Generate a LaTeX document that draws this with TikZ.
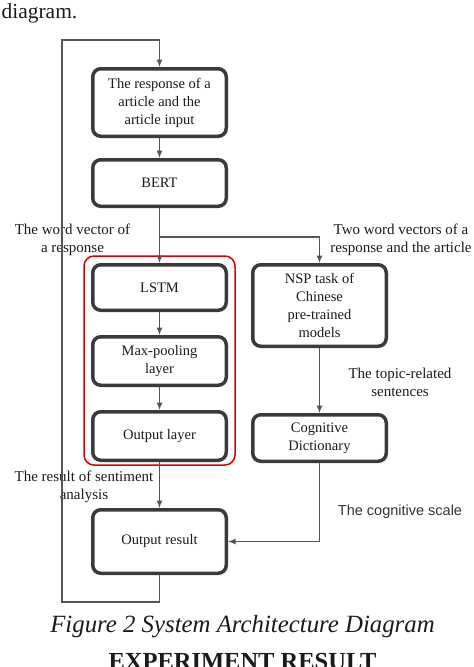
\documentclass[tikz,border=0pt]{standalone}
\usepackage{fontspec}
\setmainfont{Liberation Serif}
\newfontfamily\sansfont{Liberation Sans}
\usetikzlibrary{arrows.meta,fit}
\definecolor{boxgray}{HTML}{3A3A3A}
\definecolor{wiregray}{HTML}{555555}
\definecolor{inkgray}{HTML}{1A1A1A}
\tikzstyle{block}=[draw=boxgray, line width=3.5pt, rounded corners=8pt, minimum width=133.5pt, align=center, inner sep=2pt, text=inkgray, font=\fontsize{14.5}{18}\selectfont]
\tikzstyle{note}=[align=center, inner sep=0pt, text=inkgray, font=\fontsize{15}{18}\selectfont]
\tikzstyle{wire}=[draw=wiregray, line width=1.1pt, -{Latex[length=7.5pt,width=6pt]}]
\tikzstyle{redframe}=[draw=red!85!black, line width=1.5pt, rounded corners=10pt, inner xsep=7pt, inner ysep=5pt]

\begin{document}
\begin{tikzpicture}[x=1pt, y=-1pt]
    \useasboundingbox (0,0) rectangle (474,667);
    \node [anchor=base west, text=inkgray, font=\fontsize{21.5}{24}\selectfont] (prev) at (-2,18.5) {diagram.};

    \node [block, minimum height=67.5pt] (input) at (159.5,102.5) {The response of a\\article and the\\article input};
    \node [block, minimum height=46.5pt] (bert) at (159.5,183) {BERT};
    \node [block, minimum height=45.5pt] (lstm) at (159.5,287.5) {LSTM};
    \node [block, minimum height=48.5pt] (maxpool) at (159.5,361) {Max-pooling\\layer};
    \node [block, minimum height=48.5pt] (outlayer) at (159.5,436) {Output layer};
    \node [block, minimum height=63.5pt] (result) at (159.5,541.5) {Output result};
    \node [block, minimum height=81.5pt] (nsp) at (319.5,305.5) {NSP task of\\Chinese\\pre-trained\\models};
    \node [block, minimum height=46.5pt] (cog) at (319.5,438) {Cognitive\\Dictionary};
    \node [redframe, fit=(lstm)(outlayer), yshift=2pt] (lstmgroup) {};

    \node [note] (wordvec) at (72.5,240) {The word vector of\\a response};
    \node [note] (twovec) at (401,240) {Two word vectors of a\\response and the article};
    \node [note] (topic) at (400,382) {The topic-related\\sentences};
    \node [note] (sentiment) at (84,487) {The result of sentiment\\analysis};
    \node [note, text=black!80, font=\fontsize{14.5}{18}\sansfont] (scale) at (400,512) {The cognitive scale};

    \coordinate (split) at (159.5,237);
    \coordinate (loopbot) at (62,602);
    \coordinate (looptop) at (62,40);

    \draw [wire] (input) -- (bert);
    \draw [wire] (bert) -- (lstm);
    \draw [wire] (split) -| (nsp.north);
    \draw [wire] (lstm) -- (maxpool);
    \draw [wire] (maxpool) -- (outlayer);
    \draw [wire] (outlayer) -- (result);
    \draw [wire] (nsp) -- (cog);
    \draw [wire] (cog.south) |- (result.east);
    \draw [wire] (result.south) |- (loopbot) -- (looptop) -| (input.north);

    \node [anchor=base, text=inkgray, font=\fontsize{24.8}{28}\selectfont\itshape] (caption) at (242.5,632) {Figure 2 System Architecture Diagram};
    \node [anchor=base, text=inkgray, font=\fontsize{24.5}{28}\selectfont\bfseries] (heading) at (242.5,669) {EXPERIMENT RESULT};
\end{tikzpicture}
\end{document}
